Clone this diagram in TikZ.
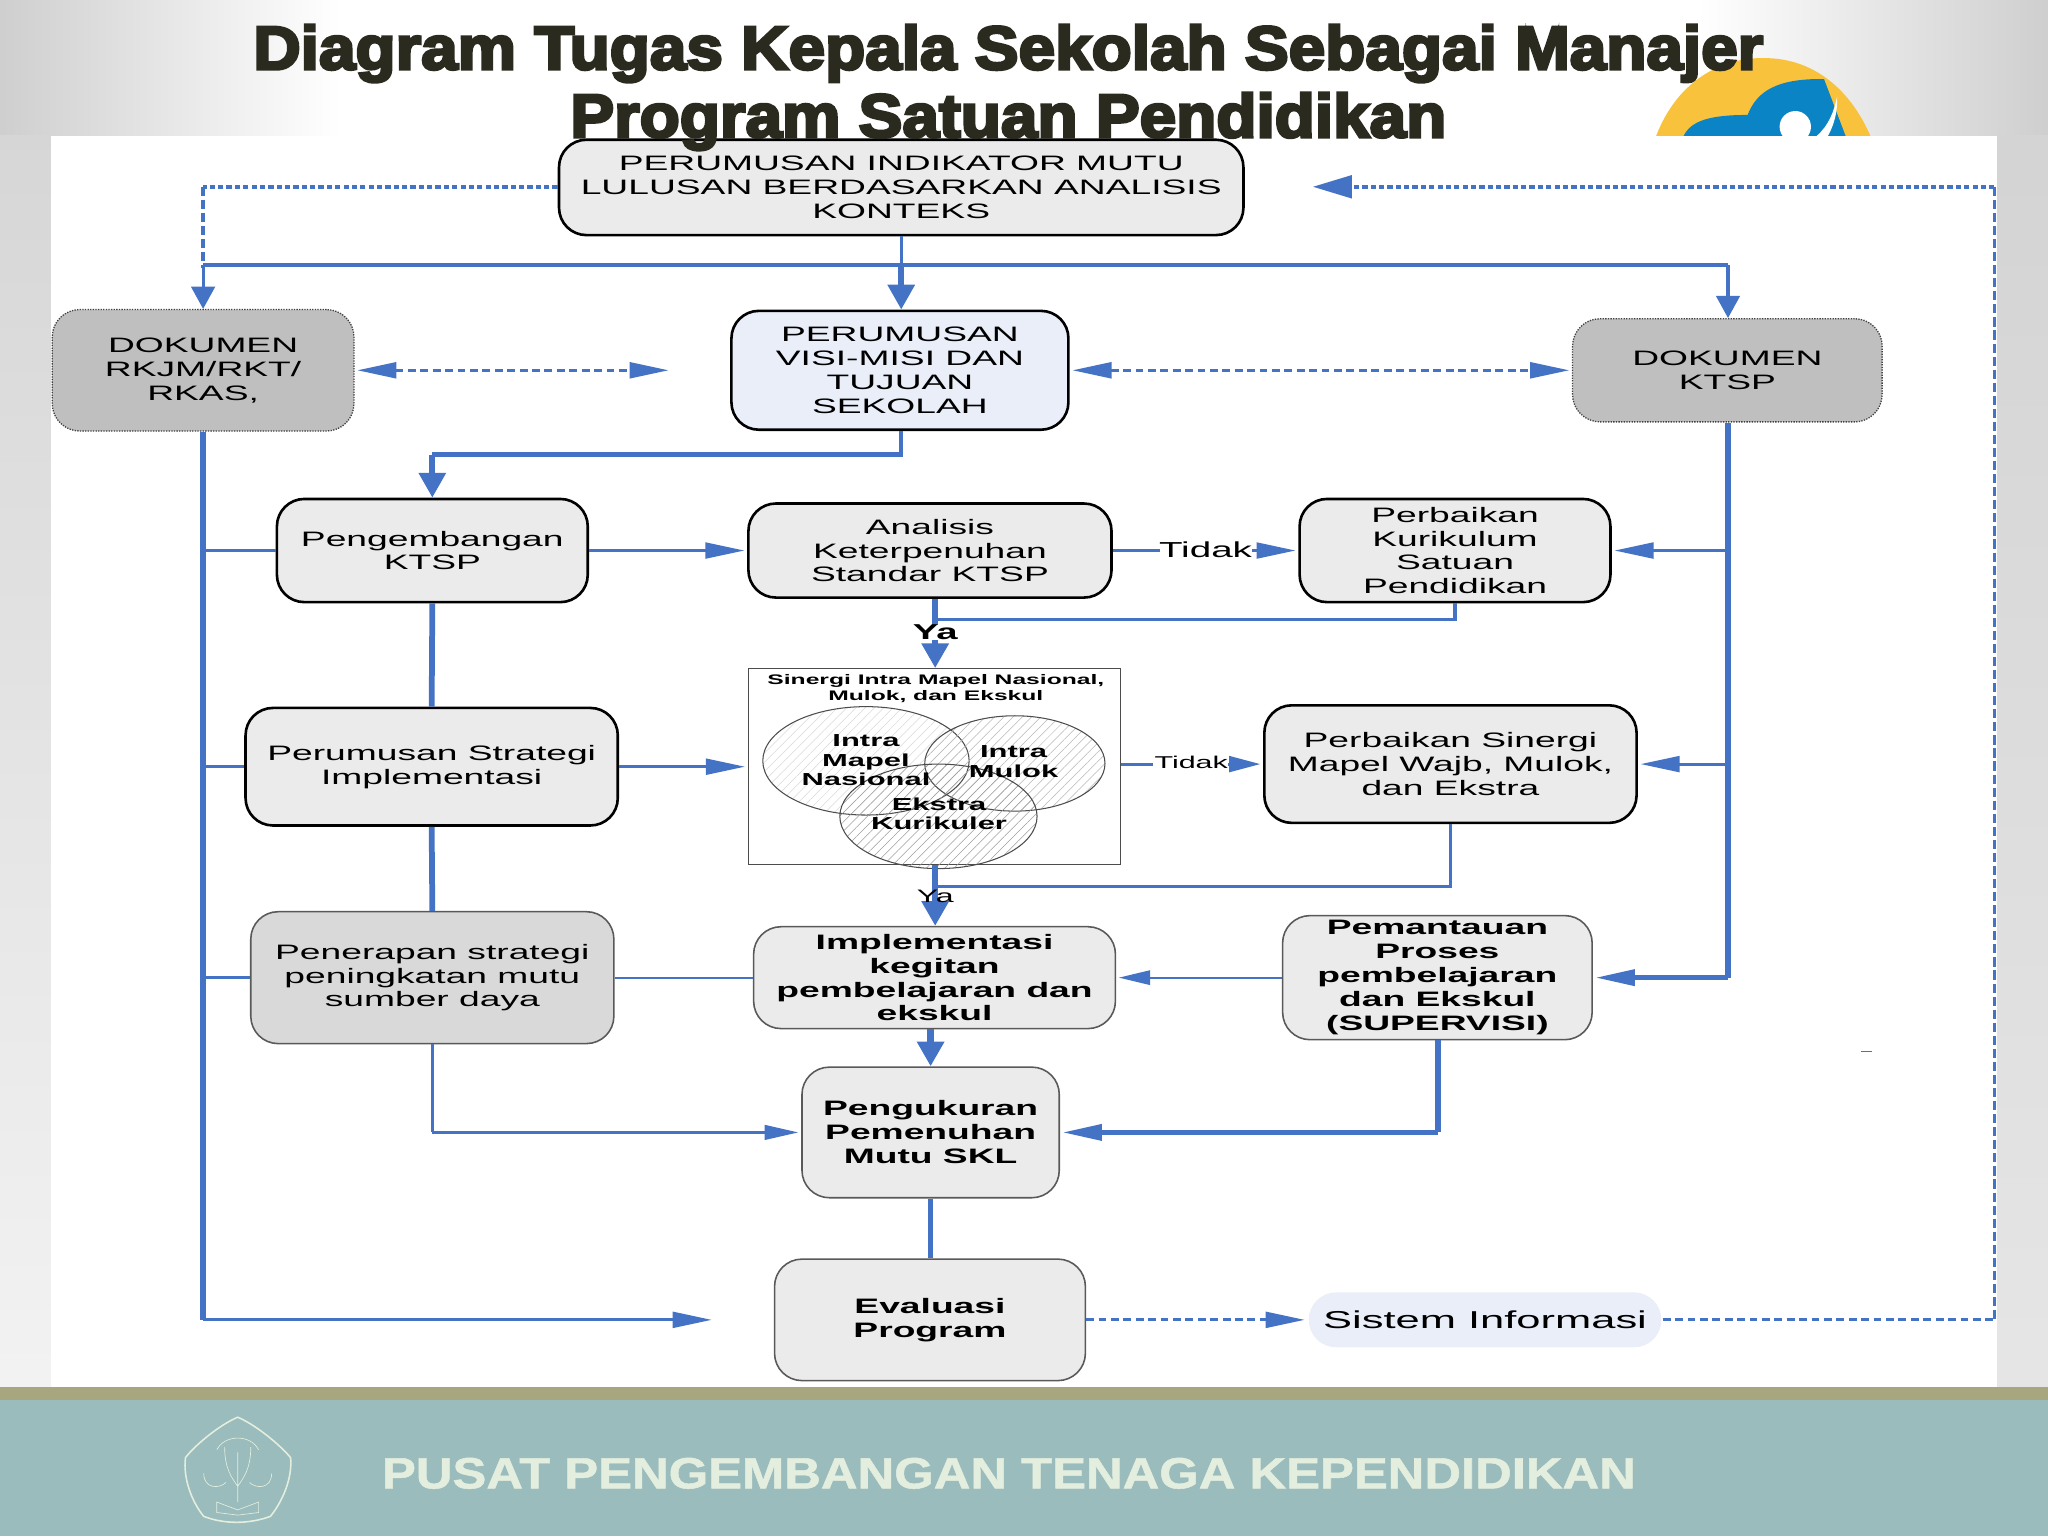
\documentclass[tikz,border=0pt]{standalone}
\usepackage{fontspec}
\usetikzlibrary{arrows.meta,shapes.geometric,patterns.meta,calc}
\setmainfont{Liberation Sans}
\newfontfamily\wf[FakeStretch=1.78]{Liberation Sans}
\newfontfamily\ttl[FakeStretch=1.07,FakeBold=4.6]{Liberation Sans}
\newfontfamily\ftf[FakeStretch=1.16,FakeBold=1.2]{Liberation Sans}
\definecolor{lnk}{HTML}{4472C4}
\definecolor{boxa}{HTML}{EBEBEB}
\definecolor{boxb}{HTML}{BFBFBF}
\definecolor{boxc}{HTML}{D9D9D9}
\definecolor{boxd}{HTML}{E9EEF8}
\definecolor{tan}{HTML}{A8A67E}
\definecolor{teal}{HTML}{9BBCBC}
\definecolor{pale}{HTML}{E3EEDF}
\definecolor{ttlc}{HTML}{2A2A1E}
\definecolor{logoy}{HTML}{F9C23C}
\definecolor{logob}{HTML}{0B84C6}
\tikzset{
 x=1pt,y=-1pt,
 sz/.style 2 args={minimum width=#1pt,minimum height=#2pt},
 bx/.style={rectangle,rounded corners=21pt,draw=black,line width=2pt,fill=boxa,align=center,inner sep=0pt,font=\wf\fontsize{16}{18.3}\selectfont},
 bxb/.style={bx,draw=black!65,line width=1.2pt,font=\wf\bfseries\fontsize{16}{18.3}\selectfont},
 gr/.style={bx,fill=boxb,draw=black!75,line width=1pt,densely dotted},
 soft/.style={bx,fill=boxc,draw=black!65,line width=1.2pt},
 lbl/.style={inner sep=0pt,align=center},
 ln/.style={draw=lnk,line width=2.4pt},
 lnth/.style={draw=lnk,line width=3.4pt},
 lnv/.style={draw=lnk,line width=5pt},
 lnm/.style={draw=lnk,line width=4.4pt},
 lnt/.style={draw=lnk,line width=1.6pt},
 dsh/.style={draw=lnk,line width=2.5pt,dash pattern=on 6pt off 3.5pt},
 dsv/.style={draw=lnk,line width=3pt,dash pattern=on 7pt off 3pt},
 dsd/.style={draw=lnk,line width=3.4pt,dash pattern=on 4pt off 2.4pt},
 hT/.style={-{Triangle[length=30pt,width=12pt]}},
 hTT/.style={{Triangle[length=30pt,width=12pt]}-{Triangle[length=30pt,width=12pt]}},
 vT/.style={-{Triangle[length=19pt,width=20pt]}},
 ven/.style={ellipse,inner sep=0pt,draw=black!70,line width=.8pt},
 hat/.style={pattern={Lines[angle=45,distance=5pt,line width=.4pt]},pattern color=black!#1},
}
\begin{document}
\begin{tikzpicture}
\useasboundingbox (0,0) rectangle (1568,1176);
% slide
\fill[white] (0,0) rectangle (1568,1176);
\shade[left color=black!19,right color=white] (0,0) rectangle (260,104);
\shade[left color=white,right color=black!19] (1300,0) rectangle (1568,104);
\shade[top color=black!16,bottom color=black!5] (0,104) rectangle (39,1062);
\shade[top color=black!17,bottom color=black!10] (1529,104) rectangle (1568,1062);
% logo
\fill[logoy] (1268,110) -- (1268,104) .. controls (1285,60) and (1320,44) .. (1350,44.5) .. controls (1385,44) and (1415,65) .. (1432,104) -- (1432,110) -- cycle;
\fill[logob] (1288,110) -- (1289,104) .. controls (1295,92) and (1310,88) .. (1338,88) .. controls (1345,70) and (1360,60) .. (1396.5,60.5) -- (1413,104) -- (1413,110) -- cycle;
\fill[white] (1374.5,97) circle[radius=12];
\fill[white] (1391,104) .. controls (1400,96) and (1404,86) .. (1406.5,74) .. controls (1407,86) and (1404,96) .. (1399.5,104) -- cycle;
\fill[white] (39,104) rectangle (1529,1061);
% footer
\fill[tan] (0,1062) rectangle (1568,1072);
\fill[teal] (0,1072) rectangle (1568,1176);
\draw[pale,line width=1.2pt,line join=round] (182,1085) .. controls (198,1092) and (216,1108) .. (222.5,1116) .. controls (224,1132) and (216,1150) .. (207,1161) .. controls (190,1167) and (172,1167) .. (156,1161) .. controls (147,1150) and (140,1132) .. (142,1116) .. controls (148,1108) and (166,1092) .. (182,1085) -- cycle;
\draw[pale,line width=.5pt] (166,1110) .. controls (172,1098) and (192,1098) .. (198,1110);
\draw[pale,line width=.5pt] (182,1112) -- (182,1150) (172,1108) .. controls (172,1125) and (178,1132) .. (182,1138) (192,1108) .. controls (192,1125) and (186,1132) .. (182,1138) (156,1128) .. controls (156,1140) and (168,1140) .. (173,1135) (208,1128) .. controls (208,1140) and (196,1140) .. (191,1135) (166,1150) -- (182,1156) -- (198,1150) -- (198,1158) -- (182,1160) -- (166,1158) -- cycle;
\node[inner sep=0pt,text=pale,font=\ftf\bfseries\fontsize{33.5}{36}\selectfont] (foot) at (772.5,1128) {PUSAT PENGEMBANGAN TENAGA KEPENDIDIKAN};
% boxes
\node[bx,sz={524}{73}] (top) at (690,143.5) {PERUMUSAN INDIKATOR MUTU\\LULUSAN BERDASARKAN ANALISIS\\KONTEKS};
\node[gr,sz={231}{93}] (rk) at (155.5,283.5) {DOKUMEN\\RKJM/RKT/\\RKAS,};
\node[bx,fill=boxd,sz={258}{91}] (visi) at (689,283.5) {PERUMUSAN\\VISI-MISI DAN\\TUJUAN\\SEKOLAH};
\node[gr,sz={237}{79}] (ktsp) at (1322.5,283.5) {DOKUMEN\\KTSP};
\node[bx,sz={238}{79}] (peng) at (331,421.5) {Pengembangan\\KTSP};
\node[bx,sz={278}{72}] (anal) at (712,421.5) {Analisis\\Keterpenuhan\\Standar KTSP};
\node[bx,sz={238}{79}] (pku) at (1114,421.5) {Perbaikan\\Kurikulum\\Satuan\\Pendidikan};
\node[rectangle,draw=black!70,line width=1pt,fill=white,sz={285}{150},inner sep=0pt] (sin) at (715.5,587) {};
\node[bx,sz={285}{90}] (strat) at (330.5,587) {Perumusan Strategi\\Implementasi};
\node[bx,sz={285}{90}] (psin) at (1110.5,585) {Perbaikan Sinergi\\Mapel Wajb, Mulok,\\dan Ekstra};
\node[soft,sz={278}{101}] (pen) at (331,748.5) {Penerapan strategi\\peningkatan mutu\\sumber daya};
\node[bxb,sz={277}{78}] (impl) at (715.5,748.5) {Implementasi\\kegitan\\pembelajaran dan\\ekskul};
\node[bxb,sz={237}{95}] (pem) at (1100.5,748.5) {Pemantauan\\Proses\\pembelajaran\\dan Ekskul\\(SUPERVISI)};
\node[bxb,sz={197}{100}] (ukur) at (712.5,867) {Pengukuran\\Pemenuhan\\Mutu SKL};
\node[bxb,sz={238}{93}] (eval) at (712,1010.5) {Evaluasi\\Program};
\node[bx,draw=none,fill=boxd,sz={270}{42},font=\wf\fontsize{18.7}{20}\selectfont] (sis) at (1137,1010.5) {Sistem Informasi};
% venn
\node[ven,hat=15,sz={158}{83}] (v1) at (663,582.5) {};
\node[ven,hat=28,sz={138}{73}] (v2) at (777,584.5) {};
\node[ven,hat=38,sz={151}{80}] (v3) at (718.5,625) {};
\node[lbl,font=\wf\bfseries\fontsize{10.6}{12.3}\selectfont] (vt) at (716.5,527.5) {Sinergi Intra Mapel Nasional,\\Mulok, dan Ekskul};
\node[lbl,font=\wf\bfseries\fontsize{13.3}{15}\selectfont] (vl1) at (663,582) {Intra\\Mapel\\Nasional};
\node[lbl,font=\wf\bfseries\fontsize{13.3}{15}\selectfont] (vl2) at (776,583) {Intra\\Mulok};
\node[lbl,font=\wf\bfseries\fontsize{13.3}{15}\selectfont] (vl3) at (719,623) {Ekstra\\Kurikuler};
% coordinates
\coordinate (tj) at (690,203);
\coordinate (tl) at (155.5,203);
\coordinate (tr) at (1323,203);
\coordinate (cl) at (155.5,143);
\coordinate (cr) at (1527,143);
\coordinate (crhead) at (1005,143);
\coordinate (cb) at (1527,1010.5);
\coordinate (tl2) at (155.5,205);
\coordinate (evin) at (545,1010.5);
\coordinate (lb) at (155.5,1010.5);
\coordinate (rkr) at (512,283.5);
\coordinate (vj) at (690,348);
\coordinate (vj2) at (331,348);
\coordinate (ar1) at (716,474);
\coordinate (ar2) at (1114,474);
\coordinate (ar3) at (716,679);
\coordinate (ar4) at (1110.5,679);
\coordinate (ex1) at (1323,421.5);
\coordinate (ex2) at (1323,585);
\coordinate (ex3) at (1323,748.5);
\coordinate (el1) at (155.5,421.5);
\coordinate (el2) at (155.5,587);
\coordinate (el3) at (155.5,748.5);
\coordinate (pj) at (331,867);
\coordinate (qj) at (1101,867);
\coordinate (tk1) at (888,421.5);
\coordinate (tk2) at (883,585);
% dashed
\draw[dsd] (top.west |- cl) -- (cl);
\draw[dsv] (cl) -- (tl2);
\draw[dsd,-{Triangle[length=30pt,width=17pt]}] (cr) -- (crhead);
\draw[dsv] (cr) -- (cb);
\draw[dsh] (sis.east) -- (cb);
\draw[dsh,hTT] ($(rk.east)+(2,0)$) -- (rkr);
\draw[dsh,hTT] ($(visi.east)+(2,0)$) -- ($(ktsp.west)+(-2,0)$);
\draw[dsh,hT] (eval.east) -- ($(sis.west)+(-2,0)$);
% top tree
\draw[ln] (top.south) -- (tj);
\draw[lnth] (tl) -- (tr);
\draw[lnm,vT] (tj) -- (visi.north -| tj);
\draw[ln,-{Triangle[length=17pt,width=18pt]}] (tl) -- (rk.north);
\draw[ln,-{Triangle[length=17pt,width=18pt]}] (tr) -- (tr |- ktsp.north);
% left trunk
\draw[lnv] (rk.south) -- (lb);
\draw[ln,hT] (lb) -- (evin);
\draw[ln] (el1) -- (peng.west);
\draw[ln] (el2) -- (strat.west);
\draw[ln] (el3) -- (pen.west);
% right trunk
\draw[lnv] (tr |- ktsp.south) -- (ex3);
\draw[ln,hT] (ex1) -- ($(pku.east)+(2,0)$);
\draw[ln,hT] (ex2) -- ($(psin.east)+(2,0)$);
\draw[lnth,hT] (ex3) -- ($(pem.east)+(2,0)$);
% middle
\draw[lnth] (visi.south -| vj) -- (vj) -- (vj2);
\draw[lnm,-{Triangle[length=19pt,width=20pt]}] (vj2) -- (peng.north);
\draw[ln,hT] (peng.east) -- ($(anal.west)+(-2,0)$);
\draw[ln] (anal.east) -- (tk1);
\node[lbl,font=\wf\fontsize{16.6}{18}\selectfont] (t1) at (923,421) {Tidak};
\draw[ln,hT] (t1.east |- tk1) -- ($(pku.west)+(-2,0)$);
\draw[lnv,vT] (anal.south -| ar1) -- (sin.north -| ar1);
\draw[ln] (pku.south -| ar2) -- (ar2) -- (ar1);
\node[lbl,fill=white,font=\wf\bfseries\fontsize{16.5}{17}\selectfont] (y1) at (716,484) {Ya};
\draw[lnm] (peng.south) -- (strat.north);
\draw[lnm] (strat.south) -- (pen.north);
\draw[ln,hT] (strat.east) -- ($(sin.west)+(-2,0)$);
\draw[ln] (sin.east |- tk2) -- (tk2);
\node[lbl,font=\wf\fontsize{13.1}{15}\selectfont] (t2) at (912,584) {Tidak};
\draw[ln,-{Triangle[length=24pt,width=12pt]}] (t2.east |- tk2) -- ($(psin.west)+(-2,0)$);
\draw[lnv,vT] (sin.south -| ar3) -- (impl.north -| ar3);
\draw[ln] (psin.south -| ar4) -- (ar4) -- (ar3);
\node[lbl,font=\wf\fontsize{13.8}{15}\selectfont] (y2) at (716,686) {Ya};
\draw[lnt] (pen.east) -- (impl.west);
\draw[lnt,-{Triangle[length=24pt,width=11pt]}] (pem.west) -- ($(impl.east)+(2,0)$);
\draw[lnv,vT] (impl.south -| ukur) -- (ukur.north);
\draw[ln] (pen.south) -- (pj);
\draw[ln,-{Triangle[length=26pt,width=11pt]}] (pj) -- ($(ukur.west)+(-2,0)$);
\draw[lnm] (pem.south -| qj) -- (qj);
\draw[lnth,hT] (qj) -- ($(ukur.east)+(2,0)$);
\draw[lnm] (ukur.south) -- (eval.north -| ukur);
\fill[lnk] (1425,804.5) rectangle (1433,805.5);
% title
\node[inner sep=0pt,text=ttlc,font=\ttl\bfseries\fontsize{47}{52}\selectfont,align=center] (title) at (772,67) {Diagram Tugas Kepala Sekolah Sebagai Manajer\\[0pt]Program Satuan Pendidikan};
\end{tikzpicture}
\end{document}
